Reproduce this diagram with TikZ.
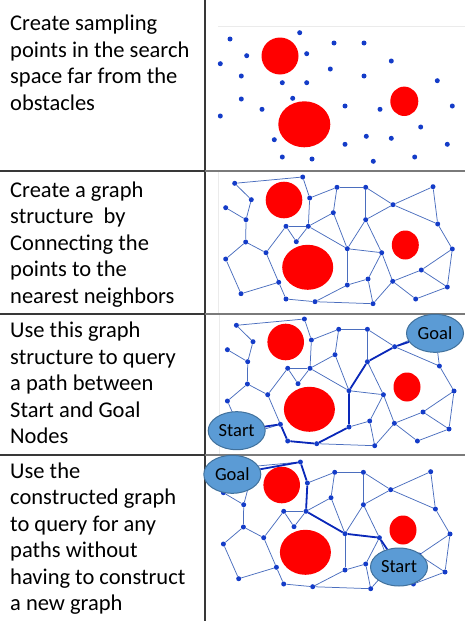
\documentclass[tikz,border=0pt]{standalone}
\usepackage{fontspec}
\setmainfont{Carlito}
\usetikzlibrary{shapes.geometric}
\colorlet{rulecol}{black!78}
\colorlet{framecol}{black!52}
\colorlet{facecol}{black!8}
\definecolor{dotcol}{RGB}{20,60,200}
\definecolor{linkcol}{RGB}{75,110,190}
\definecolor{routecol}{RGB}{10,40,185}
\definecolor{obstcol}{RGB}{255,0,0}
\definecolor{endfill}{RGB}{91,155,213}
\definecolor{enddraw}{RGB}{65,113,156}
\tikzset{
  samplept/.style={circle, fill=dotcol, inner sep=0pt, minimum size=5pt},
  link/.style={draw=linkcol, line width=0.75pt},
  route/.style={draw=routecol, line width=1.8pt},
  endpoint/.style={ellipse, fill=endfill, draw=enddraw, line width=1pt,
    minimum width=57pt, minimum height=38pt, inner sep=0pt,
    font=\fontsize{18.5}{21}\selectfont},
  steptext/.style={anchor=north west, align=left, inner sep=0pt,
    font=\fontsize{22.5}{26.5}\selectfont}
}

\begin{document}
\begin{tikzpicture}[x=1pt, y=-1pt]
  \useasboundingbox (0,0) rectangle (465,621);

  % Table rules.
  \draw[rulecol, line width=1.3pt] (205,0) -- (205,621);
  \foreach \y in {171,314,455} {
    \draw[rulecol, line width=1.3pt] (0,\y) -- (205,\y);
    \draw[framecol, line width=1.3pt] (205,\y) -- (465,\y);
  }
  % Faint picture borders.
  \draw[facecol] (218,26) -- (465,26);
  \draw[facecol] (218.5,172) -- (218.5,313);
  \draw[facecol] (219,315) -- (219,454);

  % Step texts.
  \node[steptext] (step1) at (10,15)
    {Create sampling\\points in the search\\space far from the\\obstacles};
  \node[steptext] (step2) at (10,181.6)
    {Create a graph\\structure\ \ by\\Connecting the\\points to the\\nearest neighbors};
  \node[steptext] (step3) at (10,322)
    {Use this graph\\structure to query\\a path between\\Start and Goal\\Nodes};
  \node[steptext] (step4) at (10,462.6)
    {Use the\\constructed graph\\to query for any\\paths without\\having to construct\\a new graph};

  % Sampled points.
  \fill[obstcol] (280,56) circle [radius=18.5pt];
  \fill[obstcol] (304.3,124.3) ellipse [x radius=26pt, y radius=23pt];
  \fill[obstcol] (404.3,101.3) ellipse [x radius=14pt, y radius=14.7pt];
  \foreach \n/\x/\y in {1/230.0/39.0, 2/299.7/32.7, 3/334.0/43.0, 4/364.0/43.0,
      5/246.7/55.7, 6/306.7/53.7, 7/220.3/63.7, 8/391.3/61.0, 9/330.3/69.0,
      10/241.3/76.0, 11/282.3/82.7, 12/306.7/82.7, 13/364.0/76.0, 14/437.3/80.7,
      15/241.3/99.0, 16/292.7/98.3, 17/262.0/109.3, 18/220.3/116.0, 19/345.0/106.0,
      20/380.0/109.3, 21/452.3/106.0, 22/420.7/127.0, 23/366.3/136.3,
      24/391.3/138.3, 25/274.3/139.7, 26/345.0/144.3, 27/447.3/144.3,
      28/282.3/157.0, 29/312.0/159.0, 30/373.3/161.3, 31/414.7/157.0}
    \node[samplept] (a\n) at (\x,\y) {};

  % Roadmap, drawn in three rows.
  \foreach \p/\dx/\dy in {b/0/0, c/1.7/142, d/-2.3/285} {
    \begin{scope}[shift={(\dx,\dy)}]
      \fill[obstcol] (284,200) circle [radius=18.3pt];
      \fill[obstcol] (307.7,267.3) ellipse [x radius=25.5pt, y radius=22.5pt];
      \fill[obstcol] (405.3,245) ellipse [x radius=13.5pt, y radius=14.5pt];
      \foreach \n/\x/\y in {1/234.7/183.3, 2/302.7/177.0, 3/251.3/199.7,
          4/309.7/198.0, 5/337.0/187.3, 6/365.7/187.3, 7/433.0/186.7,
          8/225.7/207.7, 9/393.0/204.7, 10/333.3/212.7, 11/246.0/219.7,
          12/365.7/219.7, 13/437.7/224.0, 14/286.0/226.3, 15/308.3/226.3,
          16/296.3/241.7, 17/245.7/242.0, 18/347.3/248.7, 19/381.7/252.7,
          20/452.3/249.0, 21/266.0/252.7, 22/225.7/259.0, 23/421.3/270.0,
          24/368.0/279.0, 25/392.7/281.3, 26/278.7/282.3, 27/347.3/285.0,
          28/447.3/287.0, 29/241.0/293.7, 30/286.0/299.0, 31/315.0/301.7,
          32/415.7/299.0, 33/373.0/303.7}
        \node[samplept] (\p\n) at (\x,\y) {};
    \end{scope}
    \foreach \a/\b in {1/2, 2/4, 1/3, 3/11, 8/11, 11/17, 4/5, 5/6, 4/15, 5/10,
        6/9, 6/12, 9/7, 7/13, 9/13, 9/12, 10/15, 10/18, 14/15, 14/16, 15/16,
        14/21, 15/18, 12/18, 12/19, 18/19, 18/27, 13/20, 17/21, 17/22, 22/29,
        29/26, 21/26, 26/30, 30/31, 31/27, 31/33, 27/24, 24/19, 24/33, 19/25,
        25/33, 25/23, 20/23, 20/28, 23/28, 25/32, 32/28}
      \draw[link] (\p\a) -- (\p\b);
  }

  % Query from Start to Goal.
  \node[endpoint] (goalc) at (435,333.3) {Goal};
  \node[endpoint] (startc) at (236.7,430.7) {Start};
  \draw[route] (startc) -- (c26) -- (c30) -- (c31) -- (c27) -- (c18)
    -- (c12) -- (c9) -- (goalc);

  % Second query on the same graph.
  \node[endpoint] (goald) at (232.3,474.3) {Goal};
  \node[endpoint] (startd) at (399,567) {Start};
  \draw[route] (goald) -- (d2) -- (d4) -- (d15) -- (d18) -- (d19) -- (startd);

\end{tikzpicture}
\end{document}
